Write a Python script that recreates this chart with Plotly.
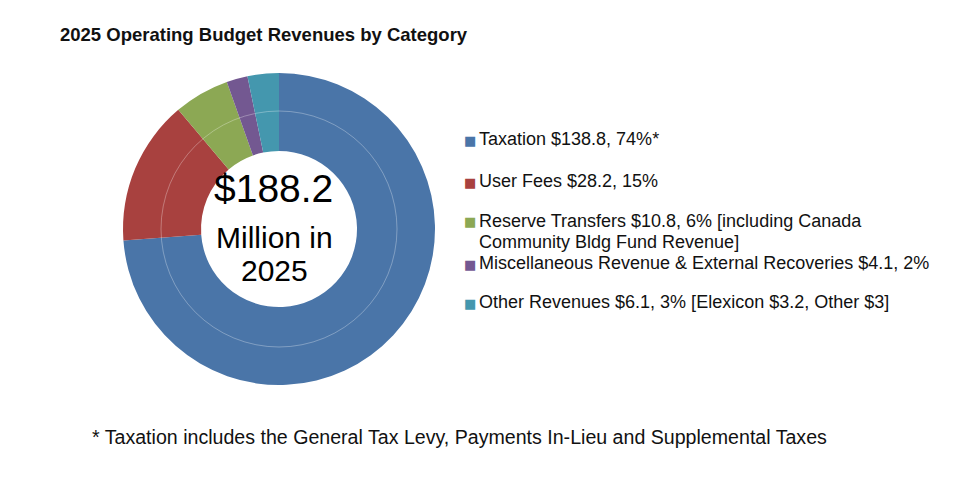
import plotly.graph_objects as go

categories = ["Taxation", "User Fees", "Reserve Transfers", "Miscellaneous Revenue & External Recoveries", "Other Revenues"]
values = [138.8, 28.2, 10.8, 4.1, 6.1]
legend_labels = [
    "Taxation $138.8, 74%*",
    "User Fees $28.2, 15%",
    "Reserve Transfers $10.8, 6% [including Canada<br>Community Bldg Fund Revenue]",
    "Miscellaneous Revenue & External Recoveries $4.1, 2%",
    "Other Revenues $6.1, 3% [Elexicon $3.2, Other $3]",
]
colors = ["#4A75A8", "#A8413F", "#8CA854", "#735891", "#4497AE"]
title_text = "2025 Operating Budget Revenues by Category"
center_lines = ["$188.2", "Million in", "2025"]
footnote = "* Taxation includes the General Tax Levy, Payments In-Lieu and Supplemental Taxes"

W, H = 963, 500
cx, cy, R = 279, 229, 156

fig = go.Figure()
fig.add_trace(go.Pie(
    labels=categories, values=values, hole=0.5, sort=False, direction="clockwise",
    rotation=0, marker=dict(colors=colors, line=dict(width=0)),
    textinfo="none", hoverinfo="label+value", showlegend=False,
    domain=dict(x=[(cx - R) / W, (cx + R) / W], y=[1 - (cy + R) / H, 1 - (cy - R) / H]),
))

# faint inner ring
r2 = 118
fig.add_shape(type="circle", xref="paper", yref="paper",
              x0=(cx - r2) / W, x1=(cx + r2) / W, y0=1 - (cy + r2) / H, y1=1 - (cy - r2) / H,
              line=dict(color="rgba(255,255,255,0.3)", width=1), layer="above")

ann = []
ann.append(dict(text=f"<b>{title_text}</b>", x=58 / W, y=1 - 34 / H, xanchor="left", yanchor="middle",
                font=dict(family="Liberation Sans, Arial, sans-serif", size=18.5, color="#111111")))
ann.append(dict(text=center_lines[0], x=(cx - 6) / W, y=1 - 188 / H, xanchor="center", yanchor="middle",
                font=dict(family="Liberation Sans, Arial, sans-serif", size=39, color="#000000")))
ann.append(dict(text=center_lines[1], x=(cx - 5) / W, y=1 - 237 / H, xanchor="center", yanchor="middle",
                font=dict(family="Liberation Sans, Arial, sans-serif", size=30, color="#000000")))
ann.append(dict(text=center_lines[2], x=(cx - 5) / W, y=1 - 270 / H, xanchor="center", yanchor="middle",
                font=dict(family="Liberation Sans, Arial, sans-serif", size=30, color="#000000")))

leg_y = [139, 181, 221, 263, 302]
line_gap = 21
for lab, col, yy in zip(legend_labels, colors, leg_y):
    ann.append(dict(text="■", x=462 / W, y=1 - (yy + 1) / H,
                    xanchor="left", yanchor="middle",
                    font=dict(family="DejaVu Sans, sans-serif", size=13, color=col)))
    for k, line in enumerate(lab.split("<br>")):
        ann.append(dict(text=line, x=477 / W, y=1 - (yy + k * line_gap) / H, xanchor="left",
                        yanchor="middle", align="left",
                        font=dict(family="Liberation Sans, Arial, sans-serif", size=18, color="#111111")))

ann.append(dict(text=footnote, x=90 / W, y=1 - 437 / H, xanchor="left", yanchor="middle",
                font=dict(family="Liberation Sans, Arial, sans-serif", size=19.6, color="#111111")))

for a in ann:
    a.update(xref="paper", yref="paper", showarrow=False)

fig.update_layout(width=W, height=H, margin=dict(l=0, r=0, t=0, b=0),
                  paper_bgcolor="white", plot_bgcolor="white", annotations=ann)
fig.write_html("out.html")
